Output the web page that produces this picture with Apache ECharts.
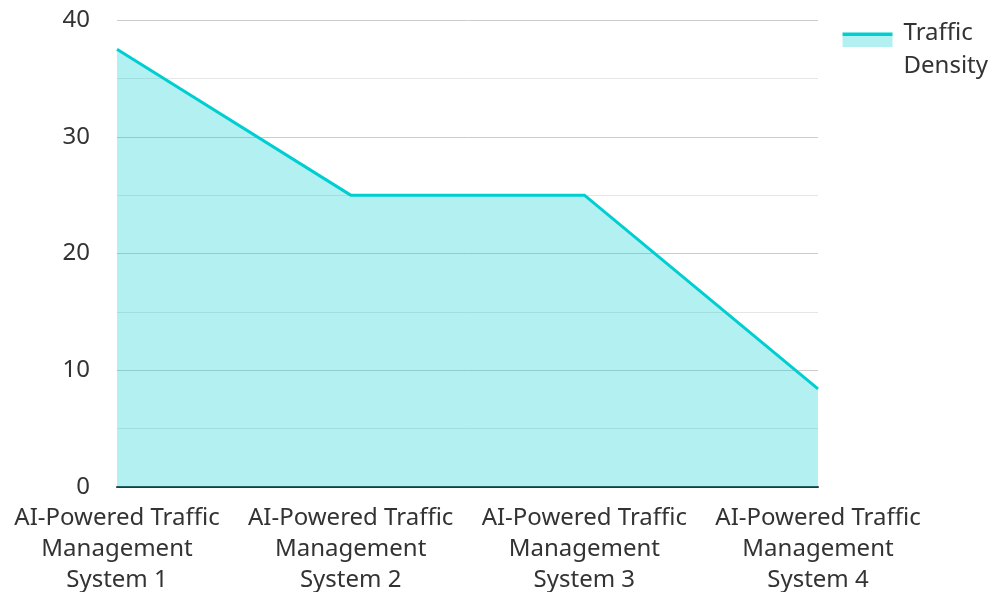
<!DOCTYPE html>
<html><head><meta charset="utf-8">
<script src="https://cdn.jsdelivr.net/npm/echarts@6/dist/echarts.min.js"></script>
<style>html,body{margin:0;padding:0;background:#fff}#c{width:992px;height:592px}</style>
</head><body><div id="c"></div>
<script>
const categories = ["AI-Powered Traffic Management System 1","AI-Powered Traffic Management System 2","AI-Powered Traffic Management System 3","AI-Powered Traffic Management System 4"];
const trafficDensity = [37.5, 25, 25, 8.4];
const seriesName = "Traffic Density";
const chart = echarts.init(document.getElementById('c'), null, {renderer:'canvas'});
const font = "'Noto Sans', sans-serif";
chart.setOption({
  animation:false,
  textStyle:{fontFamily:font},
  grid:{left:117,right:174,top:20,bottom:105,outerBoundsMode:'none',containLabel:false},
  legend:{
    show:true, right:4, top:17, padding:0, orient:'vertical',
    icon:'rect',
    itemWidth:50, itemHeight:35, itemGap:10,
    itemStyle:{color:new echarts.graphic.LinearGradient(0,0,0,1,[
      {offset:0,color:'#00CED1'},{offset:0.1,color:'#00CED1'},
      {offset:0.1,color:'rgba(0,206,209,0.3)'},{offset:0.4,color:'rgba(0,206,209,0.3)'},
      {offset:0.4,color:'rgba(0,206,209,0)'},{offset:1,color:'rgba(0,206,209,0)'}])},
    formatter: n => n.split(' ').map(w => '{a|' + w + '}').join('\n'),
    textStyle:{fontSize:24,color:'#333',fontFamily:font,lineHeight:33,
      rich:{a:{fontSize:24,color:'#333',fontFamily:font,lineHeight:33,padding:[0,0,0,6]}}}
  },
  xAxis:{
    type:'category', data:categories, boundaryGap:false,
    axisLine:{lineStyle:{color:'#333',width:2}},
    axisTick:{show:false},
    axisLabel:{fontSize:24,color:'#333',lineHeight:31,margin:16,interval:0,
      formatter: v => v.replace('Traffic ','Traffic\n').replace('Management ','Management\n')}
  },
  yAxis:{
    type:'value', min:0, max:40, interval:10,
    axisLine:{show:false}, axisTick:{show:false},
    axisLabel:{fontSize:24,color:'#333',margin:27},
    splitLine:{lineStyle:{color:'#ccc',width:1}},
    minorTick:{show:false,splitNumber:2},
    minorSplitLine:{show:true,lineStyle:{color:'#e6e6e6',width:1}}
  },
  series:[{
    name:seriesName, type:'line', data:trafficDensity,
    symbol:'none', lineStyle:{color:'#00CED1',width:3},
    itemStyle:{color:'#00CED1'},
    areaStyle:{color:'#00CED1',opacity:0.3}
  }]
});
</script></body></html>
